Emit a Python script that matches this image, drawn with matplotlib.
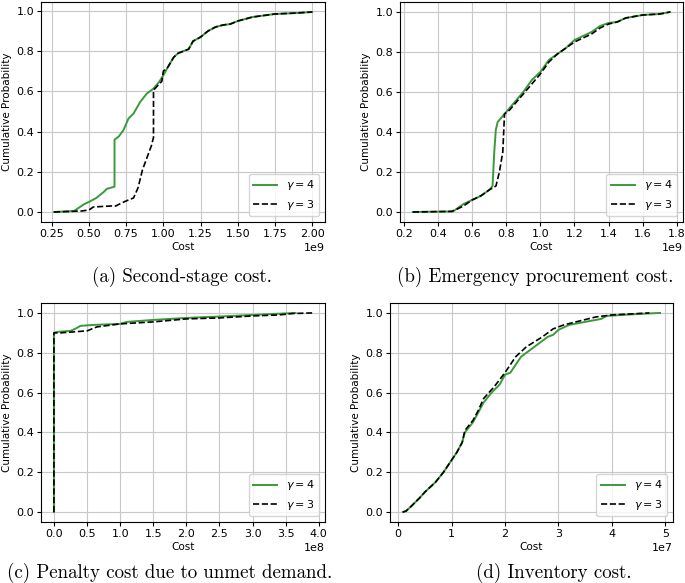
import matplotlib
matplotlib.use("Agg")
import matplotlib.pyplot as plt
from matplotlib.ticker import MultipleLocator

plt.rcParams['font.size'] = 7.5
plt.rcParams['axes.linewidth'] = 0.8

GREEN = '#3a9a3a'

# (a) Second-stage cost, x in units of 1e9
a_g4_x = [0.265, 0.40, 0.42, 0.47, 0.50, 0.55, 0.60, 0.62, 0.672, 0.672, 0.70, 0.732, 0.766, 0.80, 0.845, 0.889, 0.934, 0.97, 1.00, 1.03, 1.07, 1.10, 1.17, 1.20, 1.25, 1.30, 1.35, 1.40, 1.45, 1.50, 1.55, 1.60, 1.70, 1.75, 1.90, 2.00]
a_g4_y = [0.0, 0.005, 0.015, 0.04, 0.05, 0.07, 0.10, 0.115, 0.126, 0.36, 0.375, 0.407, 0.465, 0.49, 0.548, 0.589, 0.614, 0.645, 0.68, 0.72, 0.77, 0.79, 0.81, 0.85, 0.87, 0.90, 0.92, 0.93, 0.935, 0.95, 0.96, 0.97, 0.98, 0.985, 0.99, 0.995]
a_g3_x = [0.265, 0.45, 0.50, 0.53, 0.65, 0.68, 0.72, 0.75, 0.80, 0.83, 0.86, 0.89, 0.92, 0.934, 0.934, 0.97, 0.99, 1.00, 1.03, 1.07, 1.10, 1.17, 1.20, 1.25, 1.30, 1.35, 1.40, 1.45, 1.50, 1.55, 1.60, 1.70, 1.75, 1.90, 2.00]
a_g3_y = [0.0, 0.005, 0.01, 0.025, 0.03, 0.03, 0.045, 0.055, 0.07, 0.12, 0.21, 0.27, 0.33, 0.371, 0.606, 0.635, 0.65, 0.70, 0.72, 0.77, 0.79, 0.81, 0.85, 0.87, 0.90, 0.92, 0.93, 0.935, 0.95, 0.96, 0.97, 0.98, 0.985, 0.99, 0.995]

# (b) Emergency procurement cost, x in units of 1e9
b_g4_x = [0.253, 0.488, 0.50, 0.55, 0.60, 0.65, 0.70, 0.72, 0.73, 0.739, 0.75, 0.80, 0.85, 0.90, 0.95, 1.00, 1.05, 1.10, 1.15, 1.20, 1.30, 1.35, 1.40, 1.45, 1.50, 1.60, 1.70, 1.76]
b_g4_y = [0.0, 0.003, 0.01, 0.04, 0.06, 0.08, 0.11, 0.13, 0.30, 0.41, 0.45, 0.50, 0.55, 0.60, 0.66, 0.70, 0.76, 0.79, 0.82, 0.86, 0.90, 0.93, 0.945, 0.95, 0.97, 0.985, 0.99, 1.0]
b_g3_x = [0.253, 0.48, 0.50, 0.55, 0.60, 0.65, 0.70, 0.74, 0.76, 0.78, 0.79, 0.82, 0.85, 0.90, 0.95, 1.00, 1.05, 1.10, 1.15, 1.20, 1.30, 1.35, 1.40, 1.45, 1.50, 1.60, 1.70, 1.76]
b_g3_y = [0.0, 0.003, 0.01, 0.03, 0.06, 0.08, 0.11, 0.13, 0.20, 0.30, 0.49, 0.51, 0.54, 0.59, 0.64, 0.69, 0.75, 0.79, 0.82, 0.85, 0.89, 0.92, 0.94, 0.95, 0.97, 0.985, 0.99, 1.0]

# (c) Penalty cost due to unmet demand, x in units of 1e8
c_g4_x = [0.0, 0.0, 0.05, 0.25, 0.32, 0.40, 0.60, 1.00, 1.10, 1.50, 2.00, 2.50, 3.00, 3.65]
c_g4_y = [0.0, 0.90, 0.905, 0.91, 0.92, 0.935, 0.94, 0.945, 0.955, 0.965, 0.975, 0.982, 0.99, 1.0]
c_g3_x = [0.0, 0.0, 0.10, 0.50, 0.65, 1.00, 1.50, 2.00, 2.50, 3.00, 3.40, 3.60, 3.90]
c_g3_y = [0.0, 0.90, 0.90, 0.91, 0.93, 0.945, 0.955, 0.97, 0.975, 0.985, 0.99, 0.997, 1.0]

# (d) Inventory cost, x in units of 1e7
d_g4_x = [0.09, 0.15, 0.25, 0.40, 0.50, 0.70, 0.85, 1.00, 1.10, 1.20, 1.25, 1.40, 1.50, 1.60, 1.75, 1.90, 2.00, 2.10, 2.20, 2.30, 2.50, 2.60, 2.80, 2.90, 3.00, 3.20, 3.50, 3.80, 3.90, 4.20, 4.50, 4.90]
d_g4_y = [0.0, 0.005, 0.03, 0.07, 0.10, 0.15, 0.20, 0.26, 0.30, 0.35, 0.40, 0.45, 0.50, 0.55, 0.60, 0.64, 0.69, 0.70, 0.74, 0.78, 0.82, 0.84, 0.88, 0.89, 0.915, 0.94, 0.955, 0.97, 0.985, 0.99, 0.995, 1.0]
d_g3_x = [0.09, 0.15, 0.25, 0.40, 0.50, 0.70, 0.85, 1.00, 1.10, 1.20, 1.25, 1.40, 1.50, 1.60, 1.80, 2.00, 2.20, 2.40, 2.70, 2.90, 3.10, 3.40, 3.70, 4.00, 4.70]
d_g3_y = [0.0, 0.005, 0.03, 0.07, 0.10, 0.15, 0.20, 0.26, 0.30, 0.35, 0.41, 0.46, 0.51, 0.57, 0.63, 0.70, 0.78, 0.83, 0.88, 0.92, 0.94, 0.96, 0.98, 0.99, 1.0]

panels = [
    (a_g4_x, a_g4_y, a_g3_x, a_g3_y, 1e9, 0.25, '(a) Second-stage cost.'),
    (b_g4_x, b_g4_y, b_g3_x, b_g3_y, 1e9, 0.2, '(b) Emergency procurement cost.'),
    (c_g4_x, c_g4_y, c_g3_x, c_g3_y, 1e8, 0.5, '(c) Penalty cost due to unmet demand.'),
    (d_g4_x, d_g4_y, d_g3_x, d_g3_y, 1e7, 1.0, '(d) Inventory cost.'),
]

# axes rectangles and caption positions (figure fractions)
rects = [
    [0.0599, 0.6192, 0.4146, 0.3774],
    [0.5839, 0.6192, 0.4131, 0.3774],
    [0.0599, 0.1046, 0.4146, 0.3757],
    [0.5693, 0.1046, 0.4131, 0.3757],
]
captions_xy = [(0.266, 0.525), (0.782, 0.525), (0.248, 0.017), (0.809, 0.017)]

fig = plt.figure(figsize=(6.85, 5.83), dpi=100)

for (g4x, g4y, g3x, g3y, scale, step, cap), rect, (cx, cy) in zip(panels, rects, captions_xy):
    ax = fig.add_axes(rect)
    ax.plot([v * scale for v in g4x], g4y, color=GREEN, lw=1.4, label=r'$\gamma = 4$')
    ax.plot([v * scale for v in g3x], g3y, color='black', ls='--', lw=1.2, label=r'$\gamma = 3$')
    ax.xaxis.set_major_locator(MultipleLocator(step * scale))
    ax.yaxis.set_major_locator(MultipleLocator(0.2))
    ax.grid(True, color='#c8c8c8', lw=0.8)
    ax.set_xlabel('Cost', fontsize=7.5, labelpad=2)
    ax.set_ylabel('Cumulative Probability', fontsize=7.5, labelpad=3)
    ax.tick_params(labelsize=8, length=3, pad=2)
    ax.xaxis.get_offset_text().set_fontsize(8)
    ax.legend(loc='lower right', fontsize=8, handlelength=2.2)
    fig.text(cx, cy, cap, ha='center', va='center', fontsize=13.6, family='cmr10')

fig.savefig('out.png', dpi=100)
